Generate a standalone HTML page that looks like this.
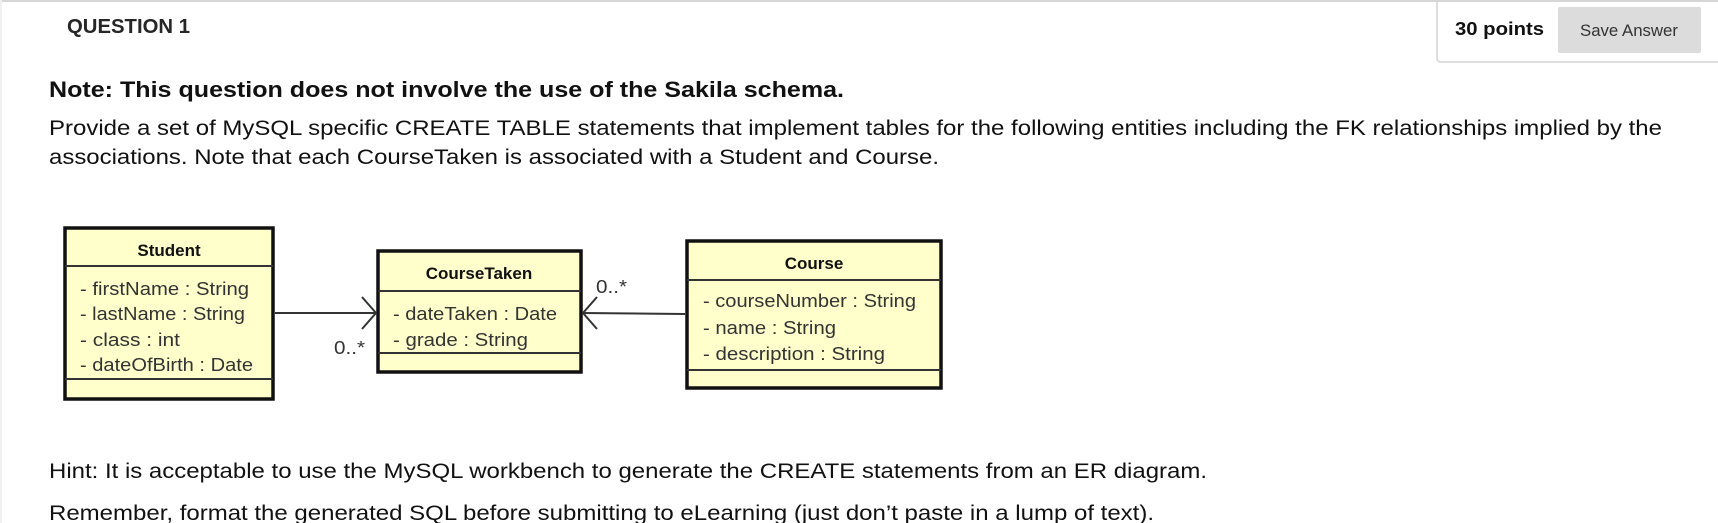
<!DOCTYPE html>
<html><head><meta charset="utf-8"><style>
html,body{margin:0;padding:0;background:#fff;width:1718px;height:523px;overflow:hidden}
svg{display:block}
</style></head><body>
<svg width="1718" height="523" viewBox="0 0 1718 523" xmlns="http://www.w3.org/2000/svg" font-family="Liberation Sans, Arial, sans-serif">
<rect x="0" y="0" width="1718" height="2" fill="#d6d6d6"/>
<rect x="0" y="0" width="2" height="523" fill="#f0f0f0"/>
<!-- header -->
<text x="67" y="33" font-size="20" font-weight="bold" fill="#262626" textLength="123" lengthAdjust="spacingAndGlyphs">QUESTION 1</text>
<path d="M1437 2 V58 Q1437 62 1441 62 H1718" fill="none" stroke="#d4d4d4" stroke-width="1.5"/>
<text x="1455" y="35" font-size="18" font-weight="bold" fill="#111" textLength="89" lengthAdjust="spacingAndGlyphs">30 points</text>
<rect x="1558" y="7" width="143" height="46" rx="2" fill="#dcdcdc"/>
<text x="1580" y="36" font-size="17" fill="#333" textLength="98" lengthAdjust="spacingAndGlyphs">Save Answer</text>
<!-- body text -->
<text x="49" y="97" font-size="22" font-weight="bold" fill="#111" textLength="795" lengthAdjust="spacingAndGlyphs">Note: This question does not involve the use of the Sakila schema.</text>
<text x="49" y="135" font-size="21" fill="#111" textLength="1613" lengthAdjust="spacingAndGlyphs">Provide a set of MySQL specific CREATE TABLE statements that implement tables for the following entities including the FK relationships implied by the</text>
<text x="49" y="164" font-size="21" fill="#111" textLength="890" lengthAdjust="spacingAndGlyphs">associations. Note that each CourseTaken is associated with a Student and Course.</text>
<text x="49" y="478" font-size="21" fill="#111" textLength="1158" lengthAdjust="spacingAndGlyphs">Hint: It is acceptable to use the MySQL workbench to generate the CREATE statements from an ER diagram.</text>
<text x="49" y="520" font-size="21" fill="#111" textLength="1105" lengthAdjust="spacingAndGlyphs">Remember, format the generated SQL before submitting to eLearning (just don’t paste in a lump of text).</text>
<!-- diagram -->
<g fill="#ffffcc" stroke="#111" stroke-width="3.5">
<rect x="65" y="228" width="208" height="171"/>
<rect x="378" y="251" width="203" height="121"/>
<rect x="687" y="241" width="254" height="147"/>
</g>
<g stroke="#333" stroke-width="2">
<line x1="65" y1="266" x2="273" y2="266"/>
<line x1="65" y1="379" x2="273" y2="379"/>
<line x1="378" y1="291" x2="581" y2="291"/>
<line x1="378" y1="353" x2="581" y2="353"/>
<line x1="687" y1="280" x2="941" y2="280"/>
<line x1="687" y1="370" x2="941" y2="370"/>
</g>
<g font-weight="bold" font-size="17" fill="#111" text-anchor="middle">
<text x="169" y="256">Student</text>
<text x="479" y="279">CourseTaken</text>
<text x="814" y="269">Course</text>
</g>
<g font-size="18" fill="#333">
<text x="80" y="295" textLength="169" lengthAdjust="spacingAndGlyphs">- firstName : String</text>
<text x="80" y="320" textLength="165" lengthAdjust="spacingAndGlyphs">- lastName : String</text>
<text x="80" y="346" textLength="100" lengthAdjust="spacingAndGlyphs">- class : int</text>
<text x="80" y="371" textLength="173" lengthAdjust="spacingAndGlyphs">- dateOfBirth : Date</text>
<text x="393" y="320" textLength="164" lengthAdjust="spacingAndGlyphs">- dateTaken : Date</text>
<text x="393" y="346" textLength="135" lengthAdjust="spacingAndGlyphs">- grade : String</text>
<text x="703" y="307" textLength="213" lengthAdjust="spacingAndGlyphs">- courseNumber : String</text>
<text x="703" y="334" textLength="133" lengthAdjust="spacingAndGlyphs">- name : String</text>
<text x="703" y="360" textLength="182" lengthAdjust="spacingAndGlyphs">- description : String</text>
<text x="334" y="354" textLength="31" lengthAdjust="spacingAndGlyphs">0..*</text>
<text x="596" y="293" textLength="31" lengthAdjust="spacingAndGlyphs">0..*</text>
</g>
<g fill="none" stroke="#333" stroke-width="2">
<line x1="275" y1="313" x2="376" y2="313"/>
<polyline points="362,297 376,313 362,329"/>
<line x1="685" y1="314" x2="583" y2="313"/>
<polyline points="597,297 583,313 597,329"/>
</g>
</svg>
</body></html>
